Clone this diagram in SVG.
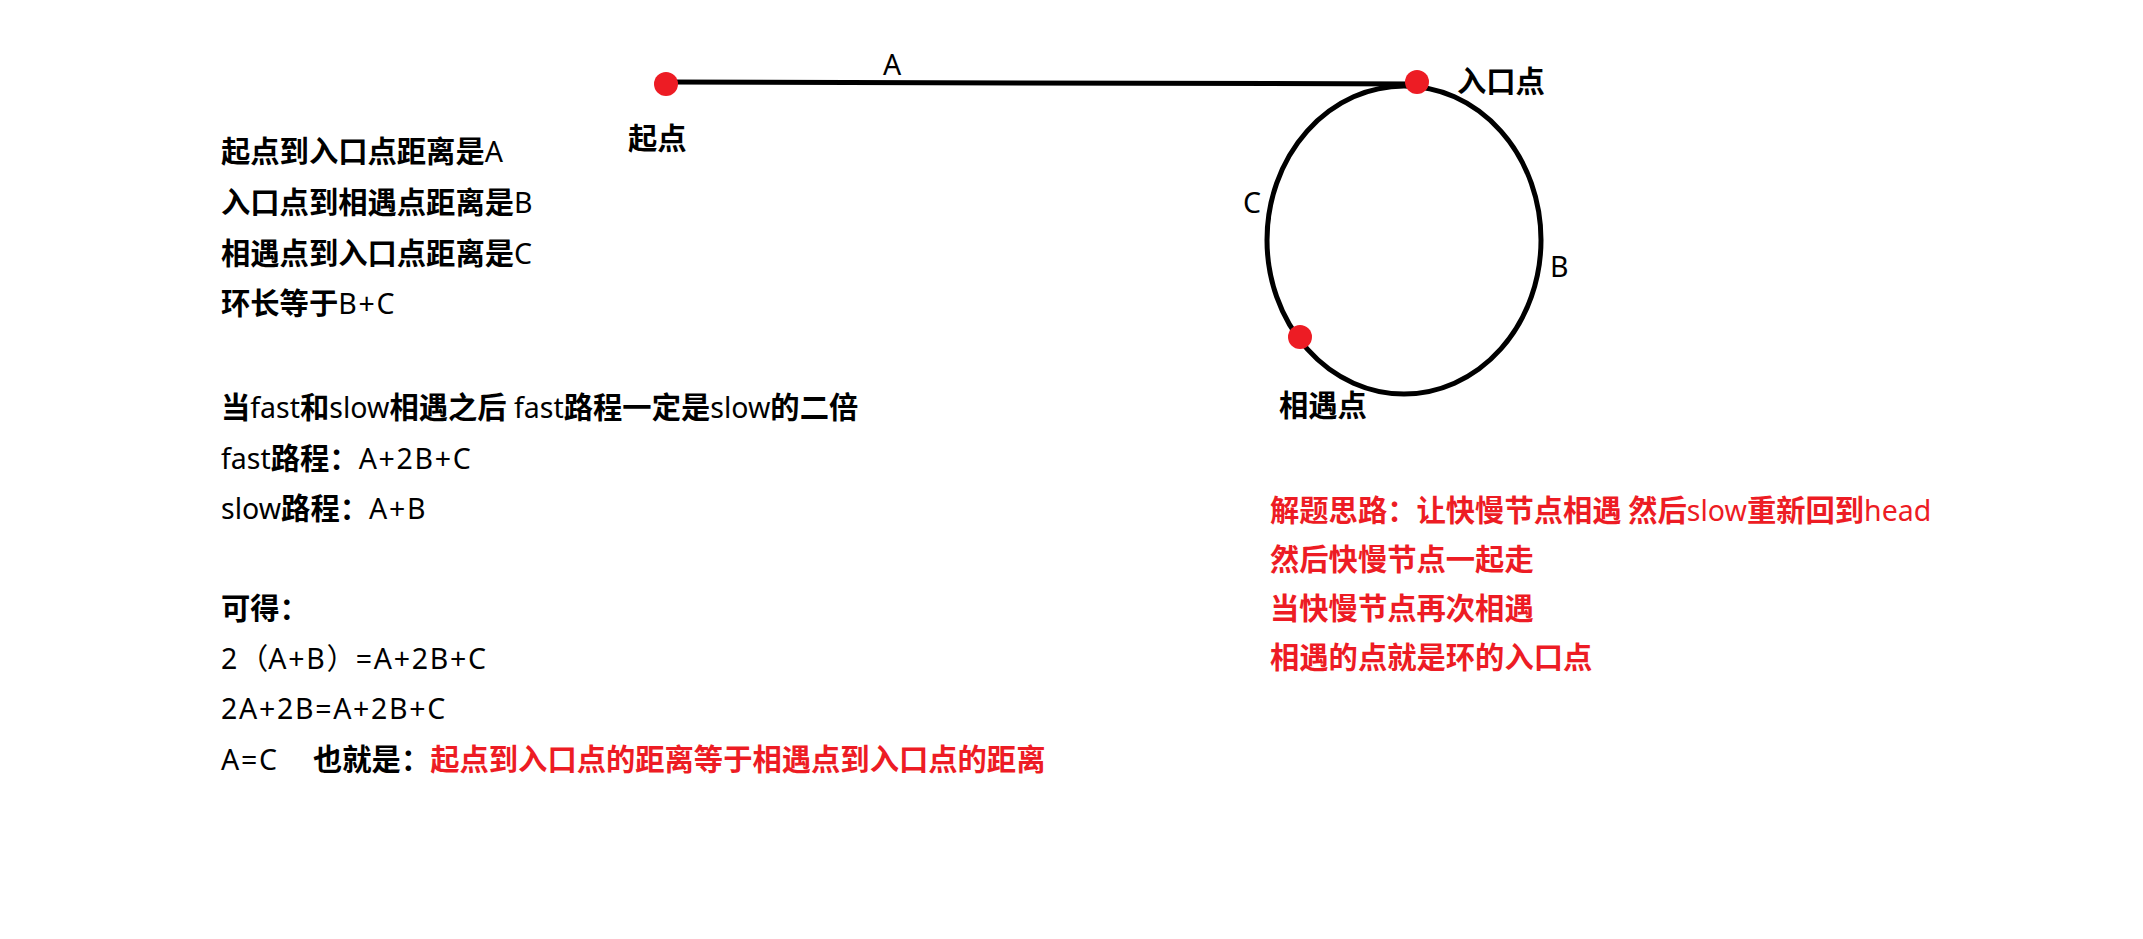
<svg xmlns="http://www.w3.org/2000/svg" width="2143" height="939" viewBox="0 0 2143 939">
<style>
text{font-family:"Noto Sans","Noto Sans CJK SC",sans-serif;font-size:28.5px;fill:#000}
.h{font-family:"Noto Sans CJK SC",sans-serif;font-size:29.3px;font-weight:700}
.p{font-family:"Noto Sans CJK SC",sans-serif;font-size:29.3px;font-weight:400}
.m{letter-spacing:1.7px}
.r{fill:#ed1c24}
.dot{fill:#ed1c24}
.edge{stroke:#000;stroke-width:5;fill:none}
</style>
<rect width="2143" height="939" fill="#fff"/>
<g id="connectors">
<line class="edge" x1="666" y1="82" x2="1417" y2="84"/>
<ellipse class="edge" cx="1404" cy="240" rx="137" ry="154"/>
<text x="883" y="75">A</text>
<text x="1243" y="213">C</text>
<text x="1550" y="277">B</text>
</g>
<g id="node-start">
<circle class="dot" cx="666" cy="84" r="12"/>
<text class="h" x="628" y="149">起点</text>
</g>
<g id="node-entry">
<circle class="dot" cx="1417" cy="82" r="12"/>
<text class="h" x="1457" y="92">入口点</text>
</g>
<g id="node-meet">
<circle class="dot" cx="1300" cy="337" r="12"/>
<text class="h" x="1279" y="416">相遇点</text>
</g>
<g id="notes-left">
<text x="221" y="162"><tspan class="h">起点到入口点距离是</tspan><tspan class="m">A</tspan></text>
<text x="221" y="213"><tspan class="h">入口点到相遇点距离是</tspan><tspan class="m">B</tspan></text>
<text x="221" y="264"><tspan class="h">相遇点到入口点距离是</tspan><tspan class="m">C</tspan></text>
<text x="221" y="314"><tspan class="h">环长等于</tspan><tspan class="m">B+C</tspan></text>
<text x="221" y="418"><tspan class="h">当</tspan>fast<tspan class="h">和</tspan>slow<tspan class="h">相遇之后</tspan> fast<tspan class="h">路程一定是</tspan>slow<tspan class="h">的二倍</tspan></text>
<text x="221" y="469">fast<tspan class="h">路程：</tspan><tspan class="m">A+2B+C</tspan></text>
<text x="221" y="519">slow<tspan class="h">路程：</tspan><tspan class="m">A+B</tspan></text>
<text x="221" y="619"><tspan class="h">可得：</tspan></text>
<text x="221" y="669"><tspan class="m">2</tspan><tspan class="p">（</tspan><tspan class="m">A+B</tspan><tspan class="p">）</tspan><tspan class="m">=A+2B+C</tspan></text>
<text x="221" y="719" class="m">2A+2B=A+2B+C</text>
<text x="221" y="770" class="m">A=C</text>
<text x="313" y="770"><tspan class="h">也就是：</tspan><tspan class="h r">起点到入口点的距离等于相遇点到入口点的距离</tspan></text>
</g>
<g id="notes-right">
<text x="1270" y="521" class="r"><tspan class="h r">解题思路：让快慢节点相遇 然后</tspan>slow<tspan class="h r">重新回到</tspan>head</text>
<text x="1270" y="570"><tspan class="h r">然后快慢节点一起走</tspan></text>
<text x="1270" y="619"><tspan class="h r">当快慢节点再次相遇</tspan></text>
<text x="1270" y="668"><tspan class="h r">相遇的点就是环的入口点</tspan></text>
</g>
</svg>
